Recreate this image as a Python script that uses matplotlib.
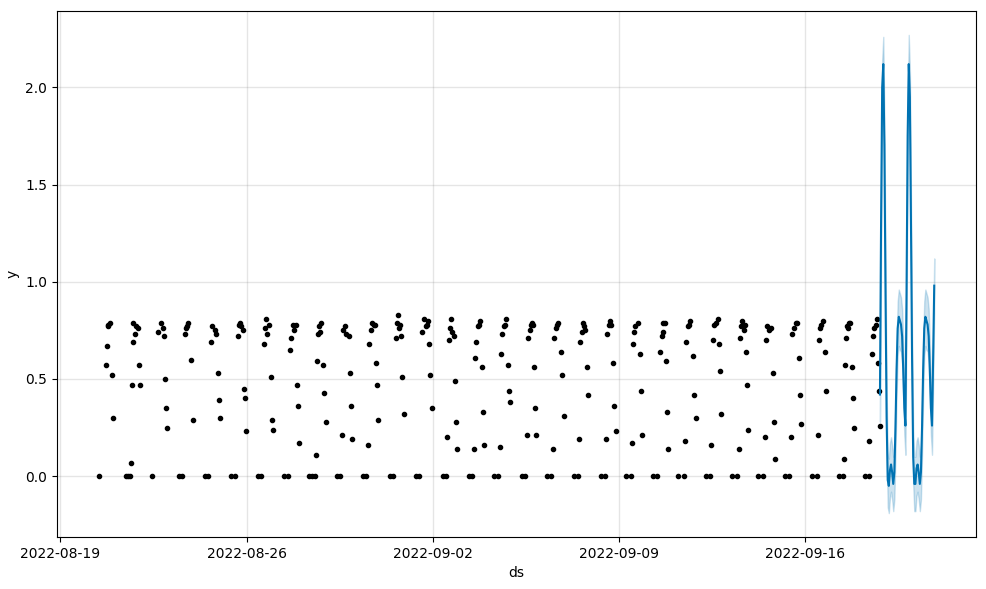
import numpy as np
import pandas as pd
import matplotlib
matplotlib.use("Agg")
import matplotlib.pyplot as plt
import matplotlib.dates as mdates

START = pd.Timestamp("2022-08-19 00:00")

# observed points: hours since 2022-08-19 00:00, and y values
obs_hours = [
    34.6, 40.7, 41.6, 42.5, 43.1, 44.6, 46.7, 47.3,
    59.1, 60.9, 62.7, 63.6, 64.2, 65.4, 65.7, 67.2, 67.8, 69.6, 70.8, 71.7,
    82.9, 88.0, 90.4, 92.2, 93.4, 94.3, 95.2, 96.4,
    106.7, 109.4, 112.4, 113.3, 114.5, 115.4, 117.8, 119.6,
    130.8, 133.5, 135.9, 137.1, 139.5, 140.4, 142.2, 143.1, 144.0,
    154.0, 157.6, 160.3, 160.9, 161.8, 163.0, 164.5, 165.7, 166.6, 167.5,
    178.1, 181.4, 183.8, 184.4, 185.6, 186.5, 188.0, 190.1, 191.0, 191.9,
    201.9, 205.5, 207.3, 208.5, 209.7, 210.9, 212.4, 213.6, 214.5, 215.8,
    224.8, 227.5, 229.9, 230.8, 231.7, 232.9, 233.5, 234.7, 235.6, 236.8, 237.7, 239.9,
    249.8, 252.2, 254.3, 255.2, 256.7, 257.9, 260.3, 261.5, 262.5, 263.4,
    273.0, 276.0, 277.8, 278.7, 280.2, 281.1, 283.3, 284.2, 285.1, 286.0, 286.9,
    297.4, 300.7, 302.8, 303.7, 305.0, 305.9, 306.8, 307.7, 308.6, 310.4,
    321.2, 323.9, 326.6, 328.2, 329.7, 330.6, 332.1, 333.0, 333.9, 335.1,
    345.3, 348.0, 348.9, 351.0, 352.0, 352.9, 353.8, 355.0, 356.5, 357.4, 358.3,
    369.1, 371.5, 373.3, 374.6, 375.5, 376.7, 378.2, 379.1, 380.9, 381.8, 382.7,
    391.4, 395.0, 397.2, 398.1, 399.0, 400.5, 401.7, 402.6, 404.4, 405.3, 406.2,
    416.4, 419.4, 421.6, 422.5, 423.7, 424.9, 426.1, 427.0, 427.9, 428.8, 429.7,
    439.6, 443.3, 445.1, 446.0, 447.5, 448.4, 449.6, 452.3, 453.2, 454.4,
    464.0, 467.4, 468.3, 469.5, 471.3, 472.2, 473.1, 474.0, 475.8, 476.7,
    488.4, 491.5, 493.0, 493.9, 495.1, 496.0, 497.5, 499.3, 500.2, 502.0,
    510.7, 514.9, 516.5, 517.4, 518.3, 519.2, 521.9, 523.7, 524.6, 525.5,
    535.4, 538.4, 541.8, 543.0, 543.9, 544.5, 546.0, 547.2, 548.1, 549.0,
    558.0, 562.6, 564.4, 565.3, 567.1, 568.0, 568.9, 571.6, 572.5, 573.7,
    583.0, 586.1, 587.6, 588.8, 589.7, 591.5, 593.3, 595.1, 596.0, 596.9,
    606.8, 610.8, 612.3, 613.2, 614.4, 615.3, 616.8, 617.7, 618.6, 619.5, 620.4,
    630.1, 634.3, 635.9, 636.8, 638.3, 639.8, 641.3, 643.1, 644.0, 644.9,
    654.5, 658.1, 659.4, 660.3, 662.1, 663.9, 665.4, 666.6, 667.5, 668.4,
    678.9, 682.9, 683.8, 684.7, 685.9, 687.1, 688.9, 690.1, 691.0,
    703.0, 706.7, 707.3, 708.2, 709.1, 710.0, 710.9, 712.1, 713.0, 714.5, 715.4, 716.3,
    726.2, 730.2, 730.5, 732.6, 733.5, 734.7, 736.2, 737.1, 738.0, 738.9, 739.8,
]
obs_y = [
    0.0, 0.57, 0.67, 0.77, 0.78, 0.79, 0.52, 0.30,
    0.0, 0.0, 0.0, 0.07, 0.47, 0.69, 0.79, 0.73, 0.77, 0.76, 0.57, 0.47,
    0.0, 0.74, 0.79, 0.76, 0.72, 0.50, 0.35, 0.25,
    0.0, 0.0, 0.73, 0.76, 0.77, 0.79, 0.60, 0.29,
    0.0, 0.0, 0.69, 0.77, 0.75, 0.73, 0.53, 0.39, 0.30,
    0.0, 0.0, 0.72, 0.78, 0.79, 0.77, 0.75, 0.45, 0.40, 0.23,
    0.0, 0.0, 0.68, 0.76, 0.81, 0.73, 0.78, 0.51, 0.29, 0.24,
    0.0, 0.0, 0.65, 0.71, 0.78, 0.75, 0.78, 0.47, 0.36, 0.17,
    0.0, 0.0, 0.0, 0.11, 0.59, 0.73, 0.77, 0.74, 0.79, 0.57, 0.43, 0.28,
    0.0, 0.0, 0.21, 0.75, 0.77, 0.73, 0.72, 0.53, 0.36, 0.19,
    0.0, 0.0, 0.16, 0.68, 0.75, 0.79, 0.78, 0.78, 0.58, 0.47, 0.29,
    0.0, 0.0, 0.71, 0.79, 0.83, 0.76, 0.78, 0.72, 0.51, 0.32,
    0.0, 0.0, 0.74, 0.81, 0.77, 0.78, 0.80, 0.68, 0.52, 0.35,
    0.0, 0.0, 0.20, 0.70, 0.76, 0.81, 0.74, 0.72, 0.49, 0.28, 0.14,
    0.0, 0.0, 0.14, 0.61, 0.69, 0.77, 0.78, 0.80, 0.56, 0.33, 0.16,
    0.0, 0.0, 0.15, 0.63, 0.73, 0.77, 0.78, 0.81, 0.57, 0.44, 0.38,
    0.0, 0.0, 0.21, 0.71, 0.75, 0.78, 0.79, 0.78, 0.56, 0.35, 0.21,
    0.0, 0.0, 0.14, 0.71, 0.76, 0.78, 0.79, 0.64, 0.52, 0.31,
    0.0, 0.0, 0.19, 0.69, 0.74, 0.79, 0.77, 0.75, 0.56, 0.42,
    0.0, 0.0, 0.19, 0.73, 0.78, 0.80, 0.78, 0.58, 0.36, 0.23,
    0.0, 0.0, 0.17, 0.68, 0.74, 0.77, 0.79, 0.63, 0.44, 0.21,
    0.0, 0.0, 0.64, 0.72, 0.74, 0.79, 0.79, 0.59, 0.33, 0.14,
    0.0, 0.0, 0.18, 0.69, 0.77, 0.78, 0.80, 0.62, 0.42, 0.30,
    0.0, 0.0, 0.16, 0.70, 0.78, 0.79, 0.81, 0.68, 0.54, 0.32,
    0.0, 0.0, 0.14, 0.71, 0.77, 0.80, 0.75, 0.78, 0.64, 0.47, 0.24,
    0.0, 0.0, 0.20, 0.70, 0.77, 0.75, 0.76, 0.53, 0.28, 0.09,
    0.0, 0.0, 0.20, 0.73, 0.76, 0.79, 0.79, 0.61, 0.42, 0.27,
    0.0, 0.0, 0.21, 0.70, 0.76, 0.78, 0.80, 0.64, 0.44,
    0.0, 0.0, 0.09, 0.57, 0.71, 0.77, 0.76, 0.79, 0.79, 0.56, 0.40, 0.25,
    0.0, 0.0, 0.18, 0.63, 0.72, 0.76, 0.78, 0.81, 0.58, 0.44, 0.26,
]

# forecast: hours since 2022-08-19 00:00, yhat and interval
fc_hours = list(range(740, 790))
fc_yhat = [
    0.42, 1.30, 2.00, 2.12, 1.70, 0.95, 0.30, -0.02, -0.05, 0.03,
    0.06, 0.02, -0.04, 0.02, 0.25, 0.55, 0.76, 0.82, 0.80, 0.78,
    0.72, 0.55, 0.35, 0.26, 0.95, 1.75, 2.12, 1.95, 1.30, 0.60,
    0.10, -0.04, -0.04, 0.04, 0.06, 0.02, -0.04, 0.02, 0.25, 0.55,
    0.76, 0.82, 0.80, 0.78, 0.72, 0.55, 0.35, 0.26, 0.60, 0.98,
]
fc_lower = [
    0.28, 1.15, 1.86, 1.98, 1.56, 0.81, 0.16, -0.16, -0.19, -0.11,
    -0.08, -0.12, -0.18, -0.12, 0.11, 0.41, 0.62, 0.67, 0.65, 0.64,
    0.58, 0.41, 0.21, 0.11, 0.81, 1.61, 1.97, 1.81, 1.16, 0.46,
    -0.04, -0.18, -0.18, -0.10, -0.08, -0.12, -0.18, -0.12, 0.11, 0.41,
    0.62, 0.67, 0.65, 0.64, 0.58, 0.41, 0.21, 0.11, 0.46, 0.84,
]
fc_upper = [
    0.56, 1.44, 2.14, 2.26, 1.84, 1.09, 0.44, 0.12, 0.09, 0.17,
    0.20, 0.16, 0.10, 0.16, 0.39, 0.69, 0.90, 0.96, 0.94, 0.92,
    0.86, 0.69, 0.49, 0.40, 1.09, 1.89, 2.27, 2.09, 1.44, 0.74,
    0.24, 0.10, 0.10, 0.18, 0.20, 0.16, 0.10, 0.16, 0.39, 0.69,
    0.90, 0.96, 0.94, 0.92, 0.86, 0.69, 0.49, 0.40, 0.74, 1.12,
]

tick_dates = ["2022-08-19", "2022-08-26", "2022-09-02", "2022-09-09", "2022-09-16"]

obs_t = START + pd.to_timedelta(obs_hours, unit="h")
fc_t = START + pd.to_timedelta(fc_hours, unit="h")

W, H = 986, 589
fig = plt.figure(figsize=(W / 100, H / 100), dpi=100, facecolor="w")
ax = fig.add_axes([57 / W, 1 - 537 / H, (976 - 57) / W, (537 - 11) / H])
ax.plot(obs_t, obs_y, "k.")
ax.plot(fc_t, fc_yhat, ls="-", c="#0072B2")
ax.fill_between(fc_t, fc_lower, fc_upper, color="#0072B2", alpha=0.2)
ax.set_xticks(pd.to_datetime(tick_dates))
ax.xaxis.set_major_formatter(mdates.DateFormatter("%Y-%m-%d"))
ax.grid(True, which="major", c="gray", ls="-", lw=1, alpha=0.2)
ax.set_xlabel("ds")
ax.set_ylabel("y")
fig.savefig("out.png", dpi=100)
